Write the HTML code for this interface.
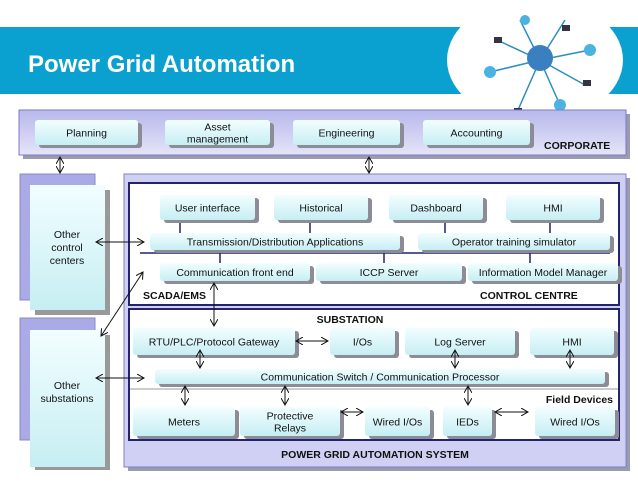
<!DOCTYPE html>
<html><head><meta charset="utf-8"><style>
body{margin:0;width:638px;height:478px;background:#fff;overflow:hidden}
svg text{font-family:"Liberation Sans",sans-serif;font-size:10.5px;fill:#111}
.b{font-weight:bold}
</style></head><body>
<svg width="638" height="478" viewBox="0 0 638 478" xmlns="http://www.w3.org/2000/svg">
<defs>
<linearGradient id="cy" x1="0" y1="0" x2="0" y2="1"><stop offset="0" stop-color="#f2feff"/><stop offset="1" stop-color="#c6eef3"/></linearGradient>
<linearGradient id="lv" x1="0" y1="0" x2="0" y2="1"><stop offset="0" stop-color="#b8b8ec"/><stop offset="1" stop-color="#e4e4f8"/></linearGradient>
<marker id="ah" markerWidth="8" markerHeight="8" refX="7" refY="4" orient="auto-start-reverse" markerUnits="userSpaceOnUse"><path d="M0,0 L7,4 L0,8" fill="none" stroke="#111" stroke-width="1"/></marker>
</defs>
<rect x="0" y="27" width="638" height="67" fill="#0aa0cf"/>
<text x="28" y="72" style="font-size:24px;font-weight:bold;fill:#fff">Power Grid Automation</text>
<ellipse cx="535" cy="60" rx="88" ry="62" fill="#fff"/>
<g stroke="#2a8fc0" stroke-width="1.5">
<line x1="540" y1="60" x2="490" y2="72"/><line x1="540" y1="60" x2="590" y2="50"/><line x1="540" y1="60" x2="520" y2="20"/><line x1="540" y1="60" x2="565" y2="20"/><line x1="540" y1="60" x2="518" y2="110"/><line x1="540" y1="60" x2="560" y2="105"/><line x1="540" y1="60" x2="497" y2="40"/><line x1="540" y1="60" x2="585" y2="85"/></g>
<circle cx="540" cy="58" r="13" fill="#3a7fc0"/>
<g fill="#4ab3df"><circle cx="490" cy="72" r="6"/><circle cx="590" cy="50" r="6"/><circle cx="525" cy="20" r="5"/><circle cx="560" cy="105" r="6"/></g>
<g fill="#334"><rect x="494" y="37" width="8" height="6"/><rect x="562" y="25" width="8" height="6"/><rect x="514" y="108" width="8" height="6"/><rect x="583" y="80" width="8" height="6"/></g>

<rect x="23" y="114" width="607" height="45" fill="#9a9ab0"/>
<rect x="19" y="110" width="607" height="45" fill="url(#lv)" stroke="#7a7ac8"/>
<text x="544" y="149" class="b">CORPORATE</text>

<rect x="20" y="174" width="75" height="126" fill="#aaaae6" stroke="#8888c8"/>
<rect x="35" y="190" width="75" height="125" fill="#999"/>
<rect x="30" y="185" width="75" height="125" fill="url(#cy)"/>
<text x="67" y="238" text-anchor="middle">Other</text><text x="67" y="251" text-anchor="middle">control</text><text x="67" y="264" text-anchor="middle">centers</text>
<rect x="20" y="318" width="75" height="122" fill="#aaaae6" stroke="#8888c8"/>
<rect x="35" y="335" width="75" height="135" fill="#999"/>
<rect x="30" y="330" width="75" height="137" fill="url(#cy)"/>
<text x="67" y="389" text-anchor="middle">Other</text><text x="67" y="402" text-anchor="middle">substations</text>

<rect x="128" y="178" width="502" height="293" fill="#9a9ab0"/>
<rect x="124" y="174" width="502" height="293" fill="#d0d0f4" stroke="#8080c8"/>
<rect x="129" y="183" width="490" height="122" fill="#fff" stroke="#23236e" stroke-width="2"/>
<rect x="129" y="309" width="490" height="131" fill="#fff" stroke="#23236e" stroke-width="2"/>

<g stroke="#23236e" stroke-width="1.5">
<line x1="140" y1="253" x2="610" y2="253"/>
<line x1="180" y1="220" x2="180" y2="253"/><line x1="310" y1="220" x2="310" y2="253"/><line x1="445" y1="220" x2="445" y2="253"/><line x1="550" y1="220" x2="550" y2="253"/>
<line x1="220" y1="253" x2="220" y2="263"/><line x1="384" y1="253" x2="384" y2="263"/><line x1="530" y1="253" x2="530" y2="263"/>
</g>
<line x1="130" y1="389" x2="618" y2="389" stroke="#999" stroke-width="1"/>

<g id="b2"></g>
<text x="143" y="299" class="b">SCADA/EMS</text>
<text x="480" y="299" class="b">CONTROL CENTRE</text>
<text x="350" y="323" class="b" text-anchor="middle">SUBSTATION</text>
<text x="613" y="403" class="b" text-anchor="end">Field Devices</text>
<text x="375" y="458" class="b" text-anchor="middle">POWER GRID AUTOMATION SYSTEM</text>

<g stroke="#111" stroke-width="1" fill="none" marker-end="url(#ah)" marker-start="url(#ah)">
<line x1="60" y1="157" x2="60" y2="173"/><line x1="369" y1="157" x2="369" y2="173"/>
<line x1="96" y1="242" x2="144" y2="242"/>
<line x1="96" y1="378" x2="144" y2="378"/>
<line x1="296" y1="341" x2="328" y2="341"/>
<line x1="200" y1="350" x2="200" y2="368"/><line x1="455" y1="350" x2="455" y2="368"/><line x1="570" y1="350" x2="570" y2="368"/>
<line x1="185" y1="386" x2="185" y2="405"/><line x1="285" y1="386" x2="285" y2="405"/><line x1="468" y1="386" x2="468" y2="405"/>
<line x1="341" y1="412" x2="363" y2="412"/><line x1="495" y1="412" x2="528" y2="412"/>
<line x1="214" y1="283" x2="214" y2="326"/>
<line x1="101" y1="336" x2="143" y2="272"/>
</g>
</svg>
<script>
const B=[
[35,120,103,25,["Planning"]],[165,120,105,25,["Asset","management"]],[293,120,107,25,["Engineering"]],[423,120,107,25,["Accounting"]],
[160,195,95,25,["User interface"]],[274,195,94,25,["Historical"]],[389,195,94,25,["Dashboard"]],[506,195,94,25,["HMI"]],
[150,233,250,17,["Transmission/Distribution Applications"]],[418,233,192,17,["Operator training simulator"]],
[160,263,150,18,["Communication front end"]],[316,263,146,18,["ICCP Server"]],[468,263,150,18,["Information Model Manager"]],
[133,328,162,27,["RTU/PLC/Protocol Gateway"]],[330,328,65,27,["I/Os"]],[405,328,110,27,["Log Server"]],[530,328,84,27,["HMI"]],
[155,369,450,15,["Communication Switch / Communication Processor"]],
[133,407,102,29,["Meters"]],[240,407,100,29,["Protective","Relays"]],[365,407,65,29,["Wired I/Os"]],[443,407,49,29,["IEDs"]],[535,407,80,29,["Wired I/Os"]]];
const ns="http://www.w3.org/2000/svg",g=document.getElementById("b2");
for(const [x,y,w,h,t] of B){
 const s=document.createElementNS(ns,"rect");s.setAttribute("x",x+4);s.setAttribute("y",y+3);s.setAttribute("width",w);s.setAttribute("height",h);s.setAttribute("rx",3);s.setAttribute("fill","#8c8c96");g.appendChild(s);
 const r=document.createElementNS(ns,"rect");r.setAttribute("x",x);r.setAttribute("y",y);r.setAttribute("width",w);r.setAttribute("height",h);r.setAttribute("rx",3);r.setAttribute("fill","url(#cy)");g.appendChild(r);
 t.forEach((l,i)=>{const e=document.createElementNS(ns,"text");e.setAttribute("x",x+w/2);e.setAttribute("y",y+h/2+4+(i-(t.length-1)/2)*12);e.setAttribute("text-anchor","middle");e.textContent=l;g.appendChild(e);});
}
</script>
</body></html>
